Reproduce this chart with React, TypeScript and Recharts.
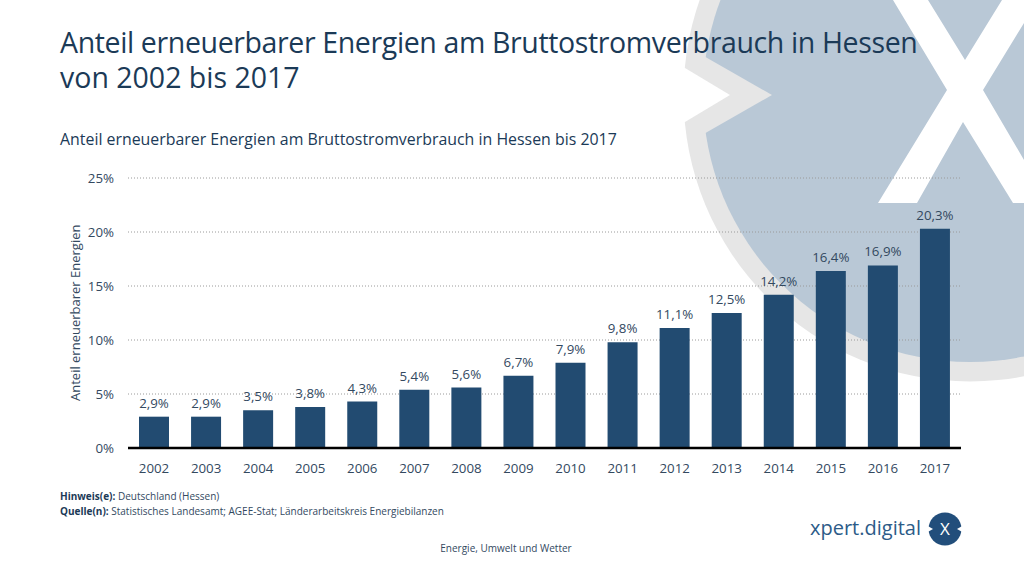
import React from "react";
import {
  BarChart,
  Bar,
  XAxis,
  YAxis,
  CartesianGrid,
  LabelList,
} from "recharts";

const years = ["2002", "2003", "2004", "2005", "2006", "2007", "2008", "2009", "2010", "2011", "2012", "2013", "2014", "2015", "2016", "2017"];
const shares = [2.9, 2.9, 3.5, 3.8, 4.3, 5.4, 5.6, 6.7, 7.9, 9.8, 11.1, 12.5, 14.2, 16.4, 16.9, 20.3];
const yTicks = [0, 5, 10, 15, 20, 25];

const chartData = years.map((year, i) => ({ year, share: shares[i] }));

const FONT = '"Open Sans", "Noto Sans", sans-serif';
const TEXT = "#33495f";
const DARK = "#1b3a57";

const formatShare = (v: any) => `${String(v).replace(".", ",")}%`;

// Watermark behind the chart
const Background = () => (
  <svg width={1024} height={577} style={{ position: "absolute", left: 0, top: 0 }}>
    <circle cx={970} cy={95} r={286.5} fill="#e6e6e6" />
    <circle cx={970} cy={95} r={267} fill="#b9c8d6" />
    <polygon points="688,47 772,95 688,143" fill="#e6e6e6" />
    <polygon points="680,65 730,95 680,125" fill="#ffffff" />
    <polygon
      points="893,0 947,90 878,203 917,203 963,122 1013,203 1024,203 1024,160 983,90 1024,23 1024,0 1002,0 965,60 928,0"
      fill="#ffffff"
    />
  </svg>
);

const Texts = () => (
  <svg width={1024} height={577} style={{ position: "absolute", left: 0, top: 0, fontFamily: FONT }}>
    <text x={60} y={53} fontSize={28.5} letterSpacing={-0.37} fill={DARK}>Anteil erneuerbarer Energien am Bruttostromverbrauch in Hessen</text>
    <text x={60} y={88} fontSize={28.5} fill={DARK}>von 2002 bis 2017</text>
    <text x={60} y={145} fontSize={15.9} fill={DARK}>Anteil erneuerbarer Energien am Bruttostromverbrauch in Hessen bis 2017</text>
    <text x={60} y={500} fontSize={10} fill={TEXT}>
      <tspan fontWeight={700} fill={DARK}>Hinweis(e):</tspan> Deutschland (Hessen)
    </text>
    <text x={60} y={515} fontSize={10} fill={TEXT}>
      <tspan fontWeight={700} fill={DARK}>Quelle(n):</tspan> Statistisches Landesamt; AGEE-Stat; Länderarbeitskreis Energiebilanzen
    </text>
    <text x={506} y={552} fontSize={10} fill={TEXT} textAnchor="middle">Energie, Umwelt und Wetter</text>
    <text x={810} y={535} fontSize={20} fill="#2c5b88">xpert.digital</text>
    <circle cx={945} cy={529} r={16.5} fill="#224e7b" />
    <polygon points="926,525 933,529 926,533" fill="#ffffff" />
    <polygon points="964,525 957,529 964,533" fill="#ffffff" />
    <text x={945} y={535} fontSize={17} fill="#ffffff" textAnchor="middle">X</text>
  </svg>
);

export default function App() {
  return (
    <div style={{ position: "absolute", left: 0, top: 0, width: 1024, height: 577, background: "#fff", overflow: "hidden" }}>
      <Background />
      <Texts />
      <div style={{ position: "absolute", left: 0, top: 0 }}>
        <BarChart
          width={1024}
          height={577}
          data={chartData}
          margin={{ top: 178, right: 63, bottom: 89, left: 0 }}
          style={{ fontFamily: FONT }}
        >
          <CartesianGrid vertical={false} stroke="#9a9a9a" strokeDasharray="1 2" />
          <XAxis
            dataKey="year"
            height={40}
            tickLine={false}
            axisLine={{ stroke: "#000", strokeWidth: 2.5 }}
            tick={{ fill: TEXT, fontSize: 13.3 }}
            tickMargin={10}
            interval={0}
          />
          <YAxis
            width={128}
            domain={[0, 25]}
            ticks={yTicks}
            tickFormatter={(v) => `${v}%`}
            tickLine={false}
            axisLine={false}
            tick={{ fill: TEXT, fontSize: 13.3 }}
            tickMargin={8}
            label={{
              value: "Anteil erneuerbarer Energien",
              angle: -90,
              position: "insideLeft",
              dx: 70,
              dy: 88,
              fill: TEXT,
              fontSize: 13,
            }}
          />
          <Bar dataKey="share" fill="#224b71" barSize={30} isAnimationActive={false}>
            <LabelList
              dataKey="share"
              position="top"
              offset={9}
              formatter={formatShare}
              fill={TEXT}
              fontSize={13.3}
            />
          </Bar>
        </BarChart>
      </div>
    </div>
  );
}
